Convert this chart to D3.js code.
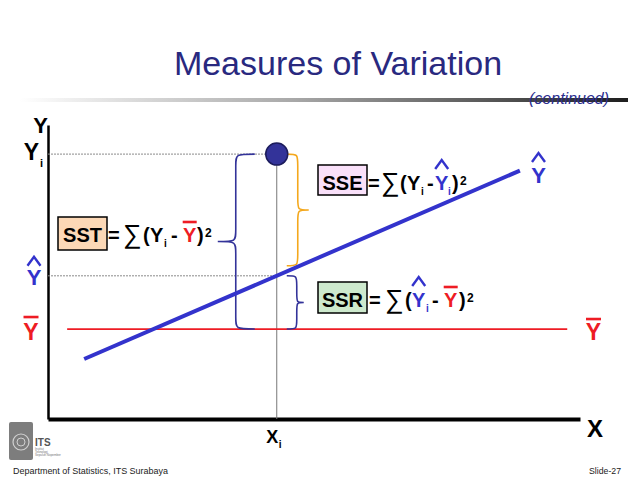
<!DOCTYPE html>
<html>
<head>
<meta charset="utf-8">
<script src="https://cdn.jsdelivr.net/npm/d3@7"></script>
<style>
  body { margin: 0; background: #fff; }
</style>
</head>
<body>
<script>
const WIDTH = 638;
const HEIGHT = 478;
const FONT = "'Liberation Sans', Arial, Helvetica, sans-serif";

// diagram values, in data units
const xDomain = [0, 10];
const yDomain = [0, 10];
const xObs = [4.3];          // X_i
const yObs = [9.01];         // Y_i
const yFit = [4.87];         // Y-hat at X_i
const yMean = [3.06];        // Y-bar
const fitX = [0.68, 8.87];   // regression line ends
const fitY = [2.04, 8.45];
const meanX = [0.36, 9.76];  // extent of the Y-bar line

const BLUE = "#3333cc";
const NAVY = "#333399";
const RED = "#ee1c24";
const ORANGE = "#f4a81d";

const x = d3.scaleLinear().domain(xDomain).range([48, 580]);
const y = d3.scaleLinear().domain(yDomain).range([419, 125]);

const svg = d3.select("body").append("svg")
  .attr("width", WIDTH)
  .attr("height", HEIGHT)
  .attr("viewBox", `0 0 ${WIDTH} ${HEIGHT}`)
  .style("font-family", FONT);

svg.append("rect").attr("width", WIDTH).attr("height", HEIGHT).attr("fill", "#fff");

// Title + gradient rule
svg.append("text")
  .attr("x", 338).attr("y", 75)
  .attr("text-anchor", "middle")
  .attr("fill", "#29297f")
  .attr("font-size", "34px")
  .text("Measures of Variation");

const grad = svg.append("defs").append("linearGradient")
  .attr("id", "rule")
  .attr("gradientUnits", "userSpaceOnUse")
  .attr("x1", 20).attr("x2", 628).attr("y1", 0).attr("y2", 0);
grad.append("stop").attr("offset", 0).attr("stop-color", "#ffffff");
grad.append("stop").attr("offset", 0.45).attr("stop-color", "#a8a8a8");
grad.append("stop").attr("offset", 1).attr("stop-color", "#1e1e1e");
svg.append("rect")
  .attr("x", 20).attr("y", 98).attr("width", 608).attr("height", 4)
  .attr("fill", "url(#rule)");

svg.append("text")
  .attr("x", 529).attr("y", 104)
  .attr("fill", "#2b2e8f")
  .attr("font-size", "16px")
  .attr("font-style", "italic")
  .text("(continued)");

// Axes (no ticks, just the domain lines)
const yAxis = svg.append("g")
  .attr("transform", `translate(${x(xDomain[0])},0)`)
  .call(d3.axisLeft(y).tickValues([]).tickSizeOuter(0));
yAxis.select(".domain").attr("stroke", "#000").attr("stroke-width", 2.5);

const xAxis = svg.append("g")
  .attr("transform", `translate(0,${y(yDomain[0])})`)
  .call(d3.axisBottom(x).tickValues([]).tickSizeOuter(0));
xAxis.select(".domain").attr("stroke", "#000").attr("stroke-width", 4);

// guide lines
const xi = xObs[0], yi = yObs[0], yh = yFit[0], yb = yMean[0];

svg.append("line")
  .attr("x1", x(xi)).attr("x2", x(xi))
  .attr("y1", y(yi)).attr("y2", y(yDomain[0]))
  .attr("stroke", "#777").attr("stroke-width", 1);

[yi, yh].forEach((v) => {
  svg.append("line")
    .attr("x1", x(xDomain[0])).attr("x2", x(xi))
    .attr("y1", y(v)).attr("y2", y(v))
    .attr("stroke", "#8a8a8a").attr("stroke-width", 1)
    .attr("stroke-dasharray", "2,1");
});

// Y-bar line
svg.append("line")
  .attr("x1", x(meanX[0])).attr("x2", x(meanX[1]))
  .attr("y1", y(yb)).attr("y2", y(yb))
  .attr("stroke", RED).attr("stroke-width", 1.8);

// braces
function brace(xEnd, xBody, xTip, yTop, yBot, r) {
  const yMid = (yTop + yBot) / 2;
  const p = d3.path();
  p.moveTo(xEnd, yTop);
  p.bezierCurveTo(xBody, yTop, xBody, yTop, xBody, yTop + r);
  p.lineTo(xBody, yMid - r);
  p.bezierCurveTo(xBody, yMid, xBody, yMid, xTip, yMid);
  p.bezierCurveTo(xBody, yMid, xBody, yMid, xBody, yMid + r);
  p.lineTo(xBody, yBot - r);
  p.bezierCurveTo(xBody, yBot, xBody, yBot, xEnd, yBot);
  return p.toString();
}

const px = x(xi);
svg.append("path")
  .attr("d", brace(px - 22, px - 41, px - 59, y(yi), y(yb), 12))
  .attr("fill", "none").attr("stroke", NAVY).attr("stroke-width", 1.6);
svg.append("path")
  .attr("d", brace(px + 10, px + 21, px + 32, y(yi), y(yh) - 10, 12))
  .attr("fill", "none").attr("stroke", ORANGE).attr("stroke-width", 1.6);
svg.append("path")
  .attr("d", brace(px + 10, px + 20, px + 27, y(yh), y(yb), 10))
  .attr("fill", "none").attr("stroke", NAVY).attr("stroke-width", 1.6);

// hat / bar decorations
function hat(cx, base, color) {
  svg.append("path")
    .attr("d", `M${cx - 6.5},${base - 21}L${cx},${base - 30}L${cx + 6.5},${base - 21}`)
    .attr("fill", "none").attr("stroke", color).attr("stroke-width", 2.4);
}
function bar(cx, yy, half, color) {
  svg.append("line")
    .attr("x1", cx - half).attr("x2", cx + half)
    .attr("y1", yy).attr("y2", yy)
    .attr("stroke", color).attr("stroke-width", 2.6);
}

// formula boxes
function formula(box, label, fill, x0, base, pieces) {
  svg.append("rect")
    .attr("x", box[0]).attr("y", box[1])
    .attr("width", box[2]).attr("height", box[3])
    .attr("fill", fill).attr("stroke", "#000").attr("stroke-width", 1.5);
  svg.append("text")
    .attr("x", box[0] + box[2] / 2).attr("y", base)
    .attr("text-anchor", "middle")
    .attr("font-size", "20px").attr("font-weight", "bold")
    .text(label);
  pieces.forEach((d) => {
    let size = 20, yy = base, weight = "bold";
    if (d.sub) { size = 10; yy = base + 5; }
    if (d.sup) { size = 12; yy = base - 5; }
    if (d.sigma) { size = 26; weight = "normal"; yy = base + 1; }
    svg.append("text")
      .attr("x", x0 + d.dx).attr("y", yy)
      .attr("font-size", size + "px")
      .attr("font-weight", weight)
      .attr("fill", d.color || "#000")
      .text(d.t);
    if (d.hat) hat(x0 + d.dx + 6.7, base, d.color);
    if (d.bar) bar(x0 + d.dx + 6.7, base - 20, 7, d.color);
  });
}

formula([58, 217, 49, 33], "SST", "#fcd8b6", 107, 242, [
  { t: "=", dx: 1 },
  { t: "\u2211", dx: 16 },
  { t: "(", dx: 36 },
  { t: "Y", dx: 43 },
  { t: "i", dx: 57, sub: true },
  { t: "-", dx: 64 },
  { t: "Y", dx: 76, color: RED, bar: true },
  { t: ")", dx: 90 },
  { t: "2", dx: 98, sup: true },
].map((d) => (d.t === "\u2211" ? { ...d, sigma: true } : d)));

formula([318, 165, 49, 30], "SSE", "#f9e0f9", 367, 190, [
  { t: "=", dx: 1 },
  { t: "\u2211", dx: 14, sigma: true },
  { t: "(", dx: 33 },
  { t: "Y", dx: 40 },
  { t: "i", dx: 54, sub: true },
  { t: "-", dx: 60 },
  { t: "Y", dx: 68, color: BLUE, hat: true },
  { t: "i", dx: 81, sub: true, color: BLUE },
  { t: ")", dx: 85 },
  { t: "2", dx: 93, sup: true },
]);

formula([318, 282, 49, 31], "SSR", "#cde9cd", 367, 307, [
  { t: "=", dx: 2 },
  { t: "\u2211", dx: 18, sigma: true },
  { t: "(", dx: 38 },
  { t: "Y", dx: 45, color: BLUE, hat: true },
  { t: "i", dx: 59, sub: true, color: BLUE },
  { t: "-", dx: 65 },
  { t: "Y", dx: 77, color: RED, bar: true },
  { t: ")", dx: 92 },
  { t: "2", dx: 100, sup: true },
]);

// regression line and the observed point
svg.append("line")
  .attr("x1", x(fitX[0])).attr("y1", y(fitY[0]))
  .attr("x2", x(fitX[1])).attr("y2", y(fitY[1]))
  .attr("stroke", BLUE).attr("stroke-width", 4);

svg.append("circle")
  .attr("cx", x(xi)).attr("cy", y(yi)).attr("r", 11)
  .attr("fill", NAVY).attr("stroke", "#1c1c5c").attr("stroke-width", 1.5);

// axis letters and level labels
function label(txt, cx, base, size, color, anchor) {
  return svg.append("text")
    .attr("x", cx).attr("y", base)
    .attr("text-anchor", anchor || "middle")
    .attr("font-size", size + "px").attr("font-weight", "bold")
    .attr("fill", color)
    .text(txt);
}

label("Y", 40.5, y(yDomain[1]) + 8, 22, "#000");
label("X", x(xDomain[1]) + 15, y(yDomain[0]) + 18, 24, "#000");

label("Y", 31.5, y(yi) + 6, 23, "#000");
label("i", 40, y(yi) + 13, 11, "#000", "start");

label("X", x(xi) - 4.5, y(yDomain[0]) + 24, 18, "#000");
label("i", x(xi) + 2, y(yDomain[0]) + 29, 10, "#000", "start");

label("Y", 34, y(yh) + 9.5, 22, BLUE);
hat(34, y(yh) + 11, BLUE);
label("Y", 538.5, y(fitY[1]) + 12.5, 22, BLUE);
hat(538.5, y(fitY[1]) + 12.5, BLUE);

label("Y", 31, y(yb) + 11, 23, RED);
bar(31, y(yb) - 12, 7.5, RED);
label("Y", 593.5, y(yb) + 11, 23, RED);
bar(593.5, y(yb) - 10, 7.5, RED);

// footer
const logo = svg.append("g");
logo.append("rect")
  .attr("x", 9).attr("y", 422).attr("width", 24).attr("height", 38)
  .attr("rx", 2).attr("fill", "#7d7d7d");
logo.append("circle")
  .attr("cx", 21).attr("cy", 442).attr("r", 8)
  .attr("fill", "none").attr("stroke", "#d0d0d0").attr("stroke-width", 1.2);
logo.append("circle")
  .attr("cx", 21).attr("cy", 442).attr("r", 4)
  .attr("fill", "none").attr("stroke", "#d0d0d0").attr("stroke-width", 1);
logo.append("text")
  .attr("x", 35).attr("y", 446)
  .attr("font-size", "10px").attr("font-weight", "bold")
  .attr("fill", "#555")
  .text("ITS");
["Institut", "Teknologi", "Sepuluh Nopember"].forEach((t, i) => {
  logo.append("text")
    .attr("x", 35).attr("y", 450 + i * 3)
    .attr("font-size", "3px").attr("fill", "#777")
    .text(t);
});

svg.append("text")
  .attr("x", 13).attr("y", 474)
  .attr("font-size", "9.5px").attr("fill", "#222")
  .attr("textLength", 155).attr("lengthAdjust", "spacingAndGlyphs")
  .text("Department of  Statistics, ITS Surabaya");

svg.append("text")
  .attr("x", 589).attr("y", 474)
  .attr("font-size", "9.5px").attr("fill", "#222")
  .attr("textLength", 32).attr("lengthAdjust", "spacingAndGlyphs")
  .text("Slide-27");
</script>
</body>
</html>
